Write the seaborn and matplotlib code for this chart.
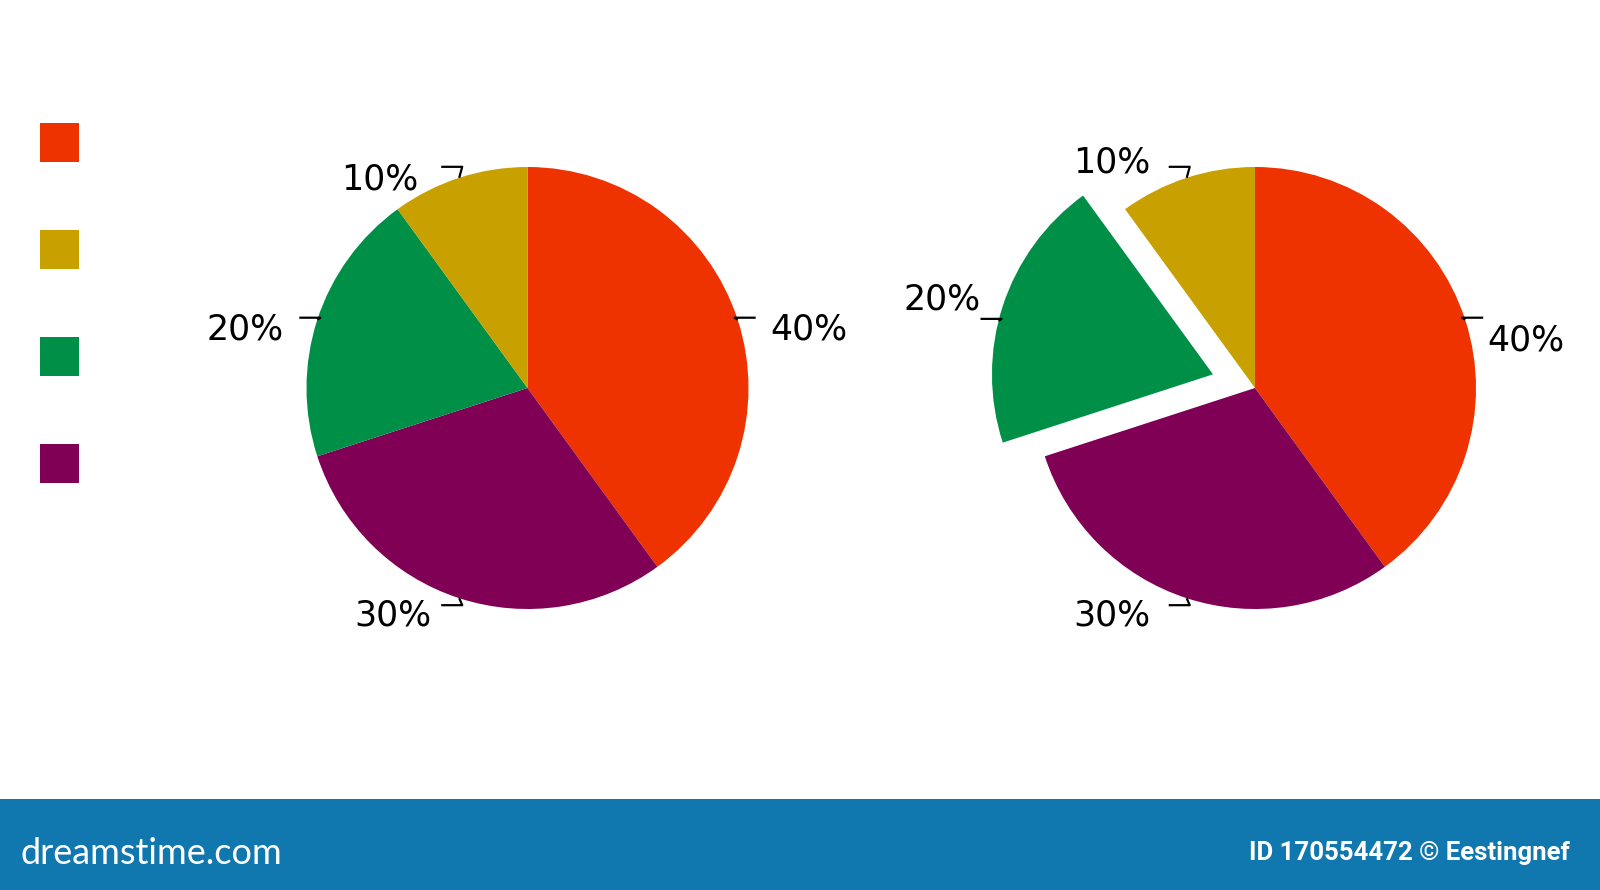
import numpy as np
import matplotlib
matplotlib.use("Agg")
import matplotlib.pyplot as plt
from matplotlib.patches import Patch, Rectangle
import seaborn as sns

# data (pie order: clockwise from 12 o'clock)
pie_labels = ["40%", "30%", "20%", "10%"]
pie_values = [40, 30, 20, 10]
pie_colors = ["#EE3300", "#7F0055", "#008F46", "#C8A000"]
explode_right = [0, 0, 0.2, 0]   # fraction of radius

# legend order (top to bottom)
legend_colors = ["#EE3300", "#C8A000", "#008F46", "#7F0055"]

banner_left = "dreamstime.com"
banner_right = "ID 170554472 © Eestingnef"

W, H = 1600, 890
R = 221
centers = [(527.5, 388), (1255, 388)]   # pixel coords, y from top
FS = 25

# label layout per pie: side, anchor angle shift, leader y offset from anchor,
# gap to text, text centre offset from leader (px, y down)
label_style = [
    {"side": [1, -1, -1, -1], "dang": [0, 0, 0, 0], "dyl": [-2, 7, -2, -11],
     "gap": [15, 10, 16, 23], "tdy": [9, 8, 9, 10]},
    {"side": [1, -1, -1, -1], "dang": [0, 0, 4, 0], "dyl": [-2, 7, -2, -11],
     "gap": [4, 18, 0, 18], "tdy": [20, 8, -22, -7]},
]

sns.set_theme(style="white")
plt.rcParams["font.family"] = ["DejaVu Sans"]

fig = plt.figure(figsize=(W / 100, H / 100), dpi=100)
ax = fig.add_axes([0, 0, 1, 1])


def up(y):
    return H - y


cap_half = 0.729 * FS * 100 / 72 / 2

for i, (cx, cy) in enumerate(centers):
    expl = [0] * len(pie_values) if i == 0 else [e * R for e in explode_right]
    wedges, _ = ax.pie(pie_values, colors=pie_colors, startangle=90, counterclock=False,
                       center=(cx, up(cy)), radius=R, explode=expl, frame=True,
                       wedgeprops=dict(linewidth=0))
    st = label_style[i]
    for j, w in enumerate(wedges):
        m = np.deg2rad((w.theta1 + w.theta2) / 2 + st["dang"][j])
        px = w.center[0] + w.r * np.cos(m)
        py = w.center[1] + w.r * np.sin(m)
        side = st["side"][j]
        yl = py - st["dyl"][j]
        ex = px - side * 3
        lx = ex + side * 21
        ax.plot([px, ex, lx], [py, yl, yl], color="black", lw=1.6, solid_capstyle="butt")
        tx = lx + side * st["gap"][j]
        ty = yl - st["tdy"][j] - cap_half
        ax.text(tx, ty, pie_labels[j], ha="left" if side > 0 else "right", va="baseline",
                fontsize=FS, color="black")

# bottom banner
ax.add_patch(Rectangle((0, 0), W, up(799), color="#1177AF", lw=0, zorder=5))
ax.text(20, up(853), banner_left, color="white", fontsize=26, va="center", ha="left",
        family=["Lato", "DejaVu Sans"], zorder=6)
ax.text(1570, up(853), banner_right, color="white", fontsize=18.5, fontweight="bold",
        va="center", ha="right", family=["Roboto", "DejaVu Sans"], zorder=6)

ax.set_xlim(0, W)
ax.set_ylim(0, H)
ax.axis("off")

handles = [Patch(facecolor=c, edgecolor="none") for c in legend_colors]
fig.legend(handles, [""] * len(handles), loc="upper left",
           bbox_to_anchor=(40 / W, 1 - 123 / H), frameon=False, fontsize=14,
           handlelength=2, handleheight=2.7, labelspacing=3.5, handletextpad=0,
           borderpad=0, borderaxespad=0)

fig.savefig("out.png", dpi=100, facecolor="white")
